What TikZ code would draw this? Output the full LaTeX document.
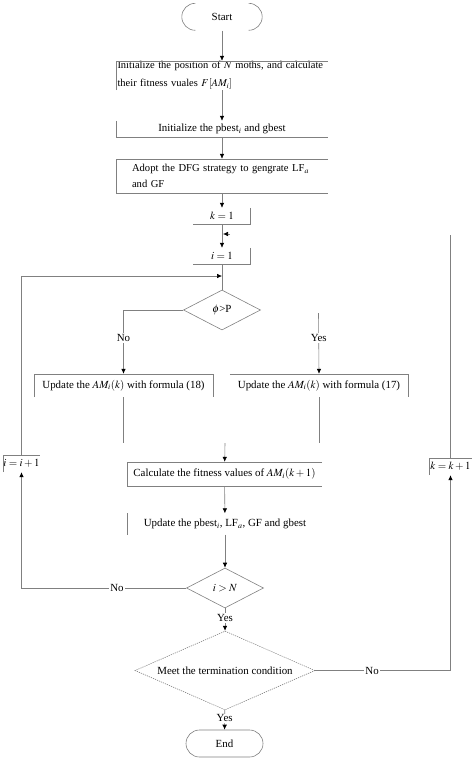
\documentclass[tikz,border=0pt]{standalone}
\usepackage{amsmath}
\usepackage{mathptmx}
\usepackage{fontspec}
\setmainfont{Liberation Serif}
\usetikzlibrary{shapes.geometric,shapes.misc,arrows.meta}

\begin{document}
\begin{tikzpicture}[x=1pt,y=-1pt,font=\fontsize{10.9}{12}\selectfont,
  line/.style={draw=gray,line width=0.6pt},
  arrow/.style={line,-{Latex[black,length=5pt,width=4.5pt]}},
  box/.style={inner sep=0pt,minimum height=#1},
  box/.default=16pt,
  decision/.style={diamond,draw=gray,line width=0.6pt,aspect=1.9,inner sep=0pt,
    minimum width=77pt,minimum height=40pt},
  lbl/.style={fill=white,inner sep=1pt}]
\useasboundingbox (0,0) rectangle (474,761);

% terminals and process boxes
\node (start) at (222,17) [box=27pt,minimum width=80pt] {Start};
\node (init) at (222,75.5) [box=29pt,minimum width=212pt,text width=209pt,align=left,
  font=\fontsize{10.5}{18}\selectfont] {Initialize the position of $N$ moths, and calculate\\their fitness vuales $F[AM_i]$};
\node (pbest) at (222,129) [box,minimum width=212pt] {Initialize the pbest$_i$ and gbest};
\node (dfg) at (222,176) [box=34pt,minimum width=212pt,text width=200pt,align=left,
  font=\fontsize{10.6}{16}\selectfont] {\hspace*{10pt}Adopt the DFG strategy to gengrate LF$_a$\\\hspace*{10pt}and GF};
\node (k1) at (222,216) [box,minimum width=57pt] {$k=1$};
\node (i1) at (222,256) [box,minimum width=57pt] {$i=1$};
\node (d1) at (222,310) [decision] {$\phi$>P};
\node (u18) at (123.5,385.5) [box=23pt,minimum width=179pt] {Update the $AM_i(k)$ with formula (18)};
\node (u17) at (319,385.5) [box=23pt,minimum width=178pt] {Update the $AM_i(k)$ with formula (17)};
\node (calc) at (224.5,474) [box=24pt,minimum width=195pt] {Calculate the fitness values of $AM_i(k+1)$};
\node (upd) at (225,524) [box=21pt,minimum width=196pt] {Update the pbest$_i$, LF$_a$, GF and gbest};
\node (d2) at (225,588) [decision] {$i>N$};
\node (d3) at (225,670.5) [decision,minimum width=180pt,minimum height=41pt,
  dash pattern=on 1.2pt off 1pt] {Meet the termination condition};
\node (end) at (224.5,743.5) [rounded rectangle,draw=gray,line width=0.6pt,
  minimum width=77pt,minimum height=27pt,inner sep=0pt] {End};
\node (ii) at (21.5,463.5) [box=17pt,minimum width=37pt] {$i=i+1$};
\node (kk) at (450.5,466.5) [box=17pt,minimum width=43pt] {$k=k+1$};

% box outlines
\draw[line] ([xshift=13.5pt]start.north west) arc[start angle=90,end angle=270,radius=13.5pt];
\draw[line] ([xshift=-13.5pt]start.north east) arc[start angle=90,end angle=-90,radius=13.5pt];
\draw[line] (init.south west) |- (init.north east);
\draw[line] (pbest.north west) |- (pbest.south east);
\draw[line] (dfg.north east) -- (dfg.north west) |- (dfg.south east);
\draw[line] (k1.north east) |- (k1.south west);
\draw[line] (i1.north east) |- (i1.south west);
\draw[line] (u18.south west) |- (u18.north east) -- (u18.south east);
\draw[line] (u17.north west) -- (u17.north east) -- (u17.south east);
\draw[line] (calc.north east) -- (calc.north west) |- (calc.south east);
\draw[line] (upd.north west) -- (upd.south west);
\draw[line] (ii.south west) |- (ii.north east);
\draw[line] (kk.south west) |- (kk.north east);

% connectors
\coordinate (join) at (222,276);
\coordinate (tip) at (223,234);
\coordinate (back) at (450.5,235);
\coordinate (yestop) at (318.5,313);
\coordinate (m) at (225,443);
\draw[arrow] (start) -- (init);
\draw[arrow] (init) -- (pbest);
\draw[arrow] (pbest) -- (dfg);
\draw[arrow] (dfg) -- (k1);
\draw[arrow] (k1) -- (i1);
\draw[arrow] ([xshift=7pt]tip) -- (tip);
\draw[line] (i1) -- (d1);
\draw[arrow] (ii.north) |- (join);
\draw[arrow] (d1.west) -| node[lbl,pos=0.72]{No} (u18.north);
\draw[arrow] (yestop) -- node[lbl,pos=0.41]{Yes} (u17.north);
\draw[line] (u18.south) -- (u18.south |- m);
\draw[line] (u17.south) -- (u17.south |- m);
\draw[arrow] (m) -- (calc);
\draw[arrow] (calc) -- (upd);
\draw[arrow] (upd) -- (d2);
\draw[arrow] (d2.west) -| node[lbl,pos=0.21]{No} (ii.south);
\draw[arrow] (d2) -- node[lbl,pos=0.43]{Yes} (d3);
\draw[arrow] (d3.east) -| node[lbl,pos=0.21]{No} (kk.south);
\draw[line] (kk.north) -- (back);
\draw[arrow] (d3) -- node[lbl,pos=0.41]{Yes} (end);
\end{tikzpicture}
\end{document}
